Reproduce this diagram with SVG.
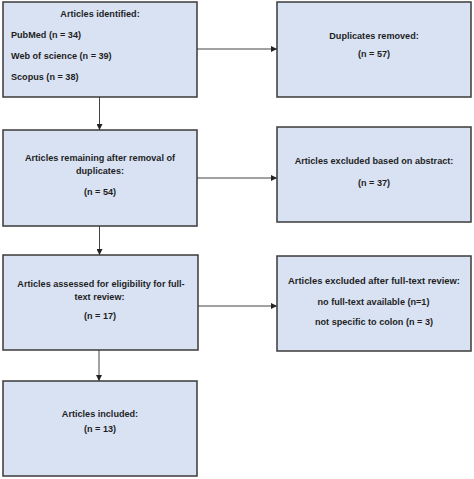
<svg xmlns="http://www.w3.org/2000/svg" width="474" height="479" viewBox="0 0 474 479">
<style>
.box{fill:#d9e2f3;stroke:#3a3a3a;stroke-width:1.5}
text{font-family:"Liberation Sans",Arial,sans-serif;font-weight:bold;font-size:9.1px;fill:#1e1e1e}
.c{text-anchor:middle}
.conn{stroke:#444;stroke-width:1;fill:none;marker-end:url(#ah)}
</style>
<defs>
<marker id="ah" viewBox="0 0 10 10" refX="10" refY="5" markerWidth="6" markerHeight="6" orient="auto" markerUnits="userSpaceOnUse">
<path d="M0,0 L10,5 L0,10 z" fill="#222"/>
</marker>
</defs>
<rect width="474" height="479" fill="#fff"/>
<g id="connectors">
<line class="conn" x1="197" y1="49" x2="277" y2="49"/>
<line class="conn" x1="99.5" y1="97" x2="99.5" y2="130"/>
<line class="conn" x1="197" y1="178" x2="277" y2="178"/>
<line class="conn" x1="99.5" y1="226" x2="99.5" y2="255"/>
<line class="conn" x1="198" y1="306" x2="277" y2="306"/>
<line class="conn" x1="99" y1="350" x2="99" y2="381"/>
</g>
<g id="n1">
<rect class="box" x="3" y="2" width="194" height="95"/>
<text class="c" x="100" y="17">Articles identified:</text>
<text x="11" y="38">PubMed (n = 34)</text>
<text x="11" y="59">Web of science (n = 39)</text>
<text x="11" y="80">Scopus (n = 38)</text>
</g>
<g id="n2">
<rect class="box" x="277" y="2" width="194" height="95"/>
<text class="c" x="374" y="39">Duplicates removed:</text>
<text class="c" x="374" y="57">(n = 57)</text>
</g>
<g id="n3">
<rect class="box" x="3" y="130" width="194" height="96"/>
<text class="c" x="100" y="161">Articles remaining after removal of</text>
<text class="c" x="100" y="174">duplicates:</text>
<text class="c" x="100" y="195">(n = 54)</text>
</g>
<g id="n4">
<rect class="box" x="277" y="127" width="194" height="95"/>
<text class="c" x="374" y="164">Articles excluded based on abstract:</text>
<text class="c" x="374" y="186">(n = 37)</text>
</g>
<g id="n5">
<rect class="box" x="3" y="255" width="195" height="95"/>
<text class="c" x="101" y="287">Articles assessed for eligibility for full-</text>
<text class="c" x="99.5" y="300">text review:</text>
<text class="c" x="100" y="319">(n = 17)</text>
</g>
<g id="n6">
<rect class="box" x="277" y="256" width="194" height="95"/>
<text class="c" x="374" y="284" textLength="172" lengthAdjust="spacingAndGlyphs">Articles excluded after full-text review:</text>
<text class="c" x="373.5" y="305">no full-text available (n=1)</text>
<text class="c" x="374" y="325">not specific to colon (n = 3)</text>
</g>
<g id="n7">
<rect class="box" x="3" y="381" width="194" height="95"/>
<text class="c" x="100" y="417">Articles included:</text>
<text class="c" x="100" y="432">(n = 13)</text>
</g>
</svg>
